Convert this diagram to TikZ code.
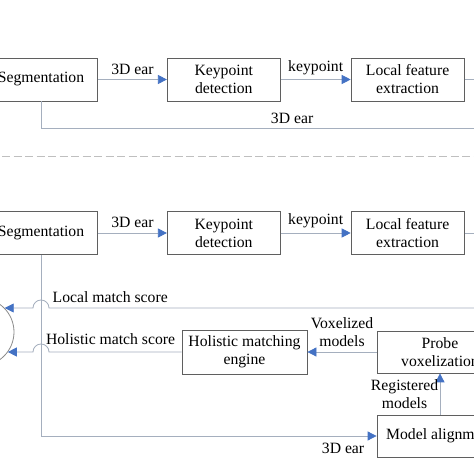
\documentclass[tikz,border=0pt]{standalone}
\usepackage{fontspec}
\setmainfont{Liberation Serif}
\usepackage{tikz}
\usetikzlibrary{positioning, arrows.meta, calc}
\definecolor{boxline}{RGB}{95,95,95}
\definecolor{wireline}{RGB}{165,175,190}
\definecolor{tipblue}{RGB}{68,114,196}
\tikzstyle{process} = [rectangle, minimum width=113pt, minimum height=43pt, text centered, align=center, draw=boxline, line width=0.8pt, inner sep=2pt]
\tikzstyle{wide} = [process, minimum width=126pt, minimum height=42pt]
\tikzstyle{wire} = [draw=wireline, line width=0.8pt]
\tikzstyle{arrow} = [wire, -{Triangle[length=9pt,width=9pt,color=tipblue]}]
\tikzstyle{tag} = [inner sep=1.5pt, align=center]

\begin{document}
\begin{tikzpicture}[x=1pt, y=1pt, font=\fontsize{15.7}{18}\selectfont]
        \useasboundingbox (0,0) rectangle (474,474);
        \clip (0,0) rectangle (474,474);
        \fill [white] (0,0) rectangle (474,474);

        % local pipeline
        \node (seg) [process] at (41,394.5) {Segmentation};
        \node (kpdetect) [process, right=69pt of seg] {Keypoint\\detection};
        \node (lfextract) [process, right=70pt of kpdetect] {Local feature\\extraction};
        \coordinate (lf_out) at (474,394.5);
        \coordinate (ear_out) at (474,346);

        \draw [arrow] (seg) -- node[tag, above=3pt] {3D ear} (kpdetect);
        \draw [arrow] (kpdetect) -- node[tag, above=3pt] {keypoint} (lfextract);
        \draw [wire] (lfextract) -- (lf_out);
        \draw [wire] (seg.south) |- node[tag, above=2pt, pos=0.79] {3D ear} (ear_out);

        \draw [dash pattern=on 8pt off 3.5pt, draw=black!25, line width=0.8pt] (2,318) -- (474,318);

        % fused pipeline
        \node (seg2) [process] at (41,241) {Segmentation};
        \node (kpdetect2) [process, right=69pt of seg2] {Keypoint\\detection};
        \node (lfextract2) [process, right=70pt of kpdetect2] {Local feature\\extraction};
        \node (holistic) [wide, minimum width=125pt, minimum height=44pt] at (244.5,122) {Holistic matching\\engine};
        \node (probevox) [wide] at (440,122) {Probe\\voxelization};
        \node (alignment) [wide] at (440,38) {Model alignment};
        \node (fusion) [circle, draw=black!45, line width=0.8pt, minimum size=68pt, inner sep=0pt] at (-20,142) {};
        \coordinate (lf_out2) at (474,241);
        \coordinate (lms_in) at (474,166);

        \draw [arrow] (seg2) -- node[tag, above=3pt] {3D ear} (kpdetect2);
        \draw [arrow] (kpdetect2) -- node[tag, above=3pt] {keypoint} (lfextract2);
        \draw [wire] (lfextract2) -- (lf_out2);
        \draw [arrow] (seg2.south) |- node[tag, below=5pt, pos=0.95] {3D ear} (alignment);
        \draw [arrow] (alignment) -- node[tag, left] {Registered\\models} (probevox);
        \draw [arrow] (probevox) -- node[tag, above=3pt] {Voxelized\\models} (holistic);
        \draw [arrow] (lms_in) -- node[tag, above=3pt, pos=0.856] {Local match score} ($(seg2.south |- lms_in)+(8,0)$) arc[start angle=0, end angle=180, radius=8] -- (fusion.44.9 |- lms_in);
        \draw [arrow] (holistic.west) -- node[tag, above=5pt, pos=0.536] {Holistic match score} ($(seg2.south |- holistic.west)+(8,0)$) arc[start angle=0, end angle=180, radius=8] -- (fusion.-36 |- holistic.west);

\end{tikzpicture}
\end{document}
